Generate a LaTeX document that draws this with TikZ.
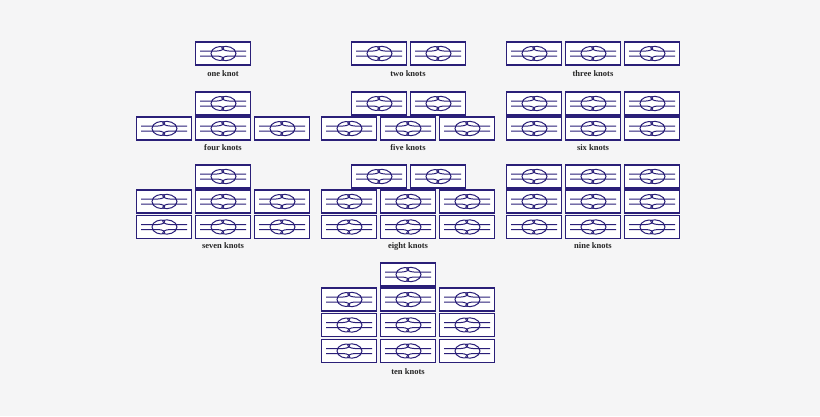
\documentclass[tikz,border=0pt]{standalone}
\usepackage{fontspec}
\setmainfont{Liberation Serif}
\definecolor{navy}{HTML}{2A1F78}
\definecolor{bg}{HTML}{F5F5F6}
\tikzset{
  lbl/.style={font=\fontsize{8.5}{10}\selectfont\bfseries, text=black!85},
  knotbox/.style={draw=navy, line width=1.3pt, fill=white, minimum width=55pt, minimum height=23pt, inner sep=0pt},
  strand/.style={draw=navy, line width=1pt},
  knot/.pic={
    \node[knotbox] (-b) {};
    \draw[strand] (-23,2.5) -- (-6,2.5) .. controls (-1,2.5) and (2,5) .. (0,6.5) .. controls (-3,8) and (-12,6) .. (-12,0) .. controls (-12,-6) and (-3,-8) .. (0,-6.5) .. controls (2,-5) and (-1,-2.5) .. (-6,-2.5) -- (-23,-2.5);
    \draw[strand] (23,2.5) -- (6,2.5) .. controls (1,2.5) and (-2,5) .. (-1,6.5) .. controls (3,8.5) and (13,6) .. (13,0) .. controls (13,-6) and (3,-8.5) .. (-1,-6.5) .. controls (-2,-5) and (1,-2.5) .. (6,-2.5) -- (23,-2.5);
  }
}
\begin{document}
\begin{tikzpicture}[x=1pt,y=-1pt]
\fill[bg] (0,0) rectangle (820,416);
\useasboundingbox (0,0) rectangle (820,416);
% one
\pic (k1) at (223,53.5) {knot};
\node[lbl] (l1) at (223,74) {one knot};
% two
\pic (k2a) at (379,53.5) {knot};
\pic (k2b) at (438,53.5) {knot};
\node[lbl] (l2) at (408,74) {two knots};
% three
\foreach \x [count=\i] in {534,593,652} {\pic (k3\i) at (\x,53.5) {knot};}
\node[lbl] (l3) at (593,74) {three knots};
% four
\pic (k4t) at (223,103.5) {knot};
\foreach \x [count=\i] in {164,223,282} {\pic (k4\i) at (\x,128.5) {knot};}
\node[lbl] (l4) at (223,148) {four knots};
% five
\pic (k5a) at (379,103.5) {knot};
\pic (k5b) at (438,103.5) {knot};
\foreach \x [count=\i] in {349,408,467} {\pic (k5\i) at (\x,128.5) {knot};}
\node[lbl] (l5) at (408,148) {five knots};
% six
\foreach \y [count=\j] in {103.5,128.5} {\foreach \x [count=\i] in {534,593,652} {\pic (k6\j\i) at (\x,\y) {knot};}}
\node[lbl] (l6) at (593,148) {six knots};
% seven
\pic (k7t) at (223,176.5) {knot};
\foreach \y [count=\j] in {201.5,227} {\foreach \x [count=\i] in {164,223,282} {\pic (k7\j\i) at (\x,\y) {knot};}}
\node[lbl] (l7) at (223,246) {seven knots};
% eight
\pic (k8a) at (379,176.5) {knot};
\pic (k8b) at (438,176.5) {knot};
\foreach \y [count=\j] in {201.5,227} {\foreach \x [count=\i] in {349,408,467} {\pic (k8\j\i) at (\x,\y) {knot};}}
\node[lbl] (l8) at (408,246) {eight knots};
% nine
\foreach \y [count=\j] in {176.5,201.5,227} {\foreach \x [count=\i] in {534,593,652} {\pic (k9\j\i) at (\x,\y) {knot};}}
\node[lbl] (l9) at (593,246) {nine knots};
% ten
\pic (k10t) at (408,274.5) {knot};
\foreach \y [count=\j] in {299.5,325,351} {\foreach \x [count=\i] in {349,408,467} {\pic (k10\j\i) at (\x,\y) {knot};}}
\node[lbl] (l10) at (408,372) {ten knots};
\end{tikzpicture}
\end{document}
